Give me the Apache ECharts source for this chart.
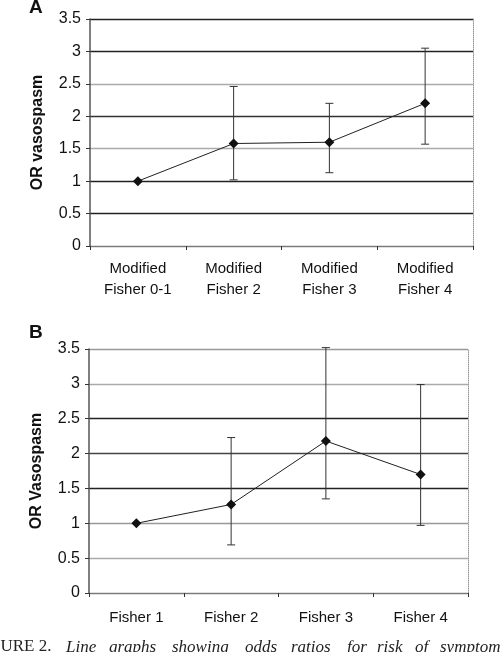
<!DOCTYPE html>
<html>
<head>
<meta charset="utf-8">
<script src="https://cdn.jsdelivr.net/npm/echarts@6/dist/echarts.min.js"></script>
<style>
  html, body { margin: 0; padding: 0; background: #fff; }
  #charts { width: 500px; height: 652px; }
</style>
</head>
<body>
<div id="charts"></div>
<script>
// panel A: modified Fisher grade
var catsA = ['Modified\nFisher 0-1', 'Modified\nFisher 2', 'Modified\nFisher 3', 'Modified\nFisher 4'];
var orA = [1.0, 1.58, 1.60, 2.20];
var lowA = [null, 1.02, 1.13, 1.57];
var highA = [null, 2.46, 2.20, 3.05];

// panel B: Fisher grade
var catsB = ['Fisher 1', 'Fisher 2', 'Fisher 3', 'Fisher 4'];
var orB = [1.0, 1.27, 2.18, 1.70];
var lowB = [null, 0.69, 1.35, 0.97];
var highB = [null, 2.23, 3.52, 2.99];

(function () {
    var myChart = echarts.init(document.getElementById('charts'));
    var font = '"Liberation Sans", Arial, sans-serif';

    function errorBar(params, api) {
        var lo = api.value(1), hi = api.value(2);
        if (isNaN(lo) || isNaN(hi)) return null;
        var top = api.coord([api.value(0), hi]);
        var bot = api.coord([api.value(0), lo]);
        var w = 4;
        var st = { stroke: '#333', lineWidth: 1 };
        return {
            type: 'group',
            children: [
                { type: 'line', shape: { x1: top[0], y1: top[1], x2: bot[0], y2: bot[1] }, style: st },
                { type: 'line', shape: { x1: top[0] - w, y1: top[1], x2: top[0] + w, y2: top[1] }, style: st },
                { type: 'line', shape: { x1: bot[0] - w, y1: bot[1], x2: bot[0] + w, y2: bot[1] }, style: st }
            ]
        };
    }

    function xAxis(idx, cats, margin, lh) {
        return {
            type: 'category', gridIndex: idx, data: cats, boundaryGap: true,
            axisLine: { lineStyle: { color: '#777', width: 1 } },
            axisTick: { show: true, length: 4, lineStyle: { color: '#333' } },
            axisLabel: { color: '#111', fontSize: 15, fontFamily: font, margin: margin, lineHeight: lh, interval: 0 }
        };
    }

    function yAxis(idx, name, colors) {
        return {
            type: 'value', gridIndex: idx, min: 0, max: 3.5, interval: 0.5,
            name: name, nameLocation: 'middle', nameGap: 44, nameRotate: 90,
            nameTextStyle: { fontSize: 16, fontWeight: 'bold', color: '#111', fontFamily: font },
            axisLine: { show: true, lineStyle: { color: '#555', width: 1.5 } },
            axisTick: { show: true, length: 4, lineStyle: { color: '#333' } },
            axisLabel: { color: '#111', fontSize: 16, fontFamily: font, margin: 9 },
            splitLine: { show: true, lineStyle: { color: colors, width: 1.3 } }
        };
    }

    function rightBorder(idx) {
        return {
            type: 'value', gridIndex: idx, position: 'right', min: 0, max: 3.5, interval: 0.5,
            axisLine: { show: true, lineStyle: { color: '#999', type: 'dotted', width: 1 } },
            axisTick: { show: false }, axisLabel: { show: false }, splitLine: { show: false }
        };
    }

    function lineSeries(idx, values) {
        return {
            type: 'line', xAxisIndex: idx, yAxisIndex: idx * 2, data: values,
            symbol: 'diamond', symbolSize: 10, z: 5,
            lineStyle: { color: '#222', width: 1 },
            itemStyle: { color: '#111' }
        };
    }

    function barSeries(idx, low, high) {
        return {
            type: 'custom', xAxisIndex: idx, yAxisIndex: idx * 2,
            renderItem: errorBar, clip: false, z: 3,
            encode: { x: 0, y: [1, 2] },
            data: low.map(function (v, i) { return [i, v === null ? '-' : v, high[i] === null ? '-' : high[i]]; })
        };
    }

    var captionWords = ['Line', 'graphs', 'showing', 'odds', 'ratios', 'for', 'risk', 'of', 'symptomatic'];
    var captionX = [66, 109, 172, 245, 291, 347, 377, 415, 440];
    var caption = captionWords.map(function (w, i) {
        return {
            type: 'text', left: captionX[i], top: 639,
            style: { text: w, fontSize: 17, fontStyle: 'italic', fontFamily: '"Liberation Serif", serif', fill: '#222' }
        };
    });
    caption.push({
        type: 'text', left: -27, top: 638,
        style: { text: 'FIGURE 2.', fontSize: 17, fontFamily: '"Liberation Serif", serif', fill: '#222' }
    });

    var option = {
        animation: false,
        backgroundColor: '#fff',
        grid: [
            { left: 90, right: 27, top: 19, height: 227 },
            { left: 89, right: 32, top: 349, height: 244 }
        ],
        xAxis: [
            xAxis(0, catsA, 12, 21),
            xAxis(1, catsB, 16, 18)
        ],
        yAxis: [
            yAxis(0, 'OR vasospasm', ['#888', '#222', '#222', '#aaa', '#333', '#aaa', '#222', '#222']),
            rightBorder(0),
            yAxis(1, 'OR Vasospasm', ['#888', '#aaa', '#999', '#222', '#444', '#222', '#aaa', '#999']),
            rightBorder(1)
        ],
        graphic: [
            { type: 'text', left: 29, top: -2, style: { text: 'A', fontSize: 19, fontWeight: 'bold', fontFamily: font, fill: '#111' } },
            { type: 'text', left: 29, top: 323, style: { text: 'B', fontSize: 19, fontWeight: 'bold', fontFamily: font, fill: '#111' } }
        ].concat(caption),
        series: [
            barSeries(0, lowA, highA),
            lineSeries(0, orA),
            barSeries(1, lowB, highB),
            lineSeries(1, orB)
        ]
    };

    myChart.setOption(option);
})();
</script>
</body>
</html>
